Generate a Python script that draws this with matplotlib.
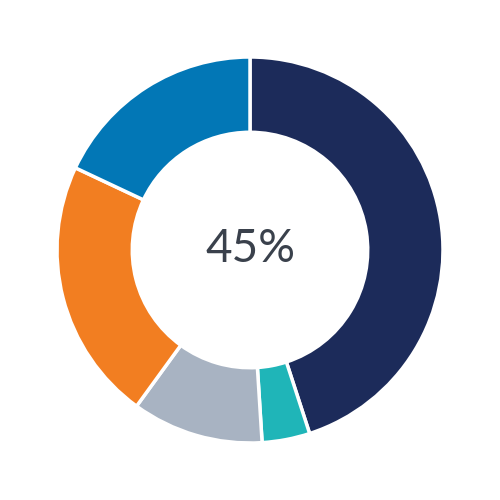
import matplotlib.pyplot as plt

# slice shares, clockwise from 12 o'clock
labels = ["Navy", "Teal", "Gray", "Orange", "Blue"]
values = [45, 4, 11, 22, 18]
colors = ["#1c2b5a", "#1fb5b8", "#a8b3c2", "#f27e21", "#0277b6"]
center_text = "45%"

fig = plt.figure(figsize=(5, 5), dpi=100)
ax = fig.add_axes([0, 0, 1, 1])

ax.pie(values, colors=colors, startangle=90, counterclock=False,
       radius=1.0,
       wedgeprops=dict(width=0.39, edgecolor="white", linewidth=2.5))

ax.text(0, 0.005, center_text, ha="center", va="center", fontsize=33,
        color="#3a414c", family=["Lato", "DejaVu Sans"], fontweight="normal")

lim = 250 / 193
ax.set_xlim(-lim, lim)
ax.set_ylim(-lim, lim)
ax.set_aspect("equal")
ax.axis("off")

fig.savefig("out.png", dpi=100, facecolor="white")
